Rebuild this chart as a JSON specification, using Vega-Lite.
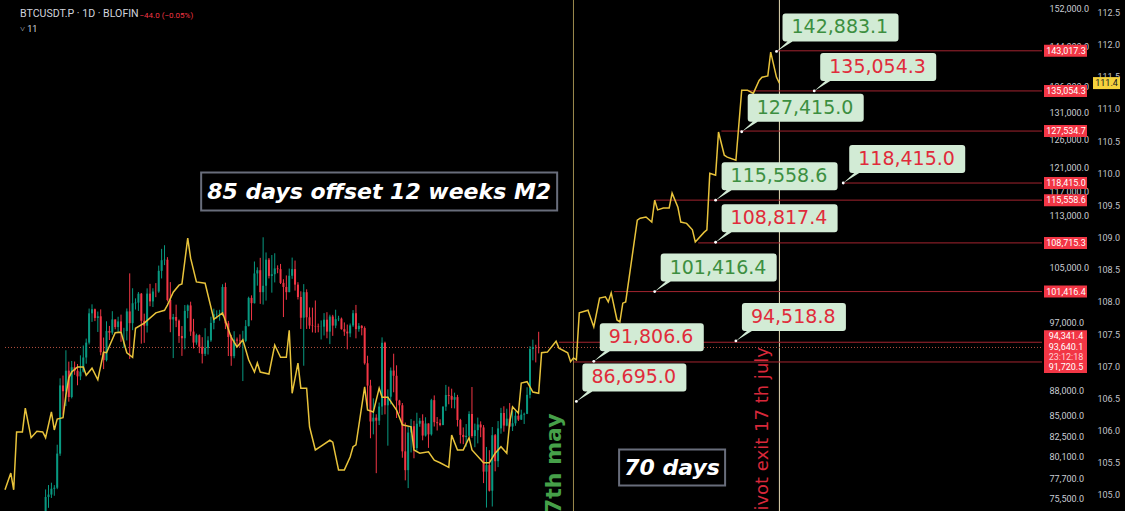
{
  "$schema": "https://vega.github.io/schema/vega-lite/v6.json",
  "width": 1042,
  "height": 511,
  "padding": {"left": 0, "top": 0, "right": 83, "bottom": 0},
  "autosize": {"type": "none"},
  "background": "#000000",
  "config": {
    "view": {"stroke": null},
    "text": {"font": "DejaVu Sans"}
  },
  "title": {
    "text": "BTCUSDT.P · 1D · BLOFIN",
    "subtitle": "˅ 11",
    "anchor": "start",
    "orient": "top",
    "frame": "group",
    "offset": -34,
    "dx": 20,
    "font": "Roboto",
    "fontSize": 10.6,
    "fontWeight": "normal",
    "color": "#d1d4dc",
    "subtitleFont": "Roboto",
    "subtitleFontSize": 9,
    "subtitleColor": "#d1d4dc",
    "subtitlePadding": 5
  },
  "datasets": {
    "candles": [
      {"date":"2024-11-05","o":67811,"h":70577,"l":67458,"c":69359},
      {"date":"2024-11-06","o":69359,"h":76460,"l":69322,"c":75640},
      {"date":"2024-11-07","o":75640,"h":76943,"l":74480,"c":75904},
      {"date":"2024-11-08","o":75904,"h":77199,"l":75538,"c":76538},
      {"date":"2024-11-09","o":76538,"h":76932,"l":75773,"c":76649},
      {"date":"2024-11-10","o":76649,"h":81500,"l":76492,"c":80474},
      {"date":"2024-11-11","o":80474,"h":89604,"l":80216,"c":88701},
      {"date":"2024-11-12","o":88701,"h":89956,"l":85072,"c":87955},
      {"date":"2024-11-13","o":87955,"h":93265,"l":86127,"c":90585},
      {"date":"2024-11-14","o":90585,"h":91765,"l":86668,"c":87250},
      {"date":"2024-11-15","o":87250,"h":91850,"l":87073,"c":91032},
      {"date":"2024-11-16","o":91032,"h":91779,"l":90056,"c":90587},
      {"date":"2024-11-17","o":90587,"h":91449,"l":88722,"c":89855},
      {"date":"2024-11-18","o":89855,"h":92594,"l":89376,"c":90465},
      {"date":"2024-11-19","o":90465,"h":93905,"l":90357,"c":92310},
      {"date":"2024-11-20","o":92310,"h":94831,"l":91500,"c":94286},
      {"date":"2024-11-21","o":94286,"h":98988,"l":94040,"c":98317},
      {"date":"2024-11-22","o":98317,"h":99588,"l":97122,"c":98892},
      {"date":"2024-11-23","o":98892,"h":98983,"l":97232,"c":97672},
      {"date":"2024-11-24","o":97672,"h":98564,"l":95734,"c":97901},
      {"date":"2024-11-25","o":97901,"h":98871,"l":92600,"c":93010},
      {"date":"2024-11-26","o":93010,"h":94973,"l":90791,"c":91965},
      {"date":"2024-11-27","o":91965,"h":97208,"l":91792,"c":95863},
      {"date":"2024-11-28","o":95863,"h":96564,"l":94640,"c":95643},
      {"date":"2024-11-29","o":95643,"h":98619,"l":95364,"c":97460},
      {"date":"2024-11-30","o":97460,"h":97463,"l":96092,"c":96407},
      {"date":"2024-12-01","o":96407,"h":97836,"l":95693,"c":97185},
      {"date":"2024-12-02","o":97185,"h":98130,"l":94395,"c":95840},
      {"date":"2024-12-03","o":95840,"h":96305,"l":93578,"c":95849},
      {"date":"2024-12-04","o":95849,"h":99000,"l":94587,"c":98587},
      {"date":"2024-12-05","o":98587,"h":104088,"l":92120,"c":96945},
      {"date":"2024-12-06","o":96945,"h":101898,"l":95981,"c":99740},
      {"date":"2024-12-07","o":99740,"h":100439,"l":98844,"c":99831},
      {"date":"2024-12-08","o":99831,"h":101351,"l":98657,"c":101109},
      {"date":"2024-12-09","o":101109,"h":101215,"l":94150,"c":97276},
      {"date":"2024-12-10","o":97276,"h":98270,"l":94256,"c":96593},
      {"date":"2024-12-11","o":96593,"h":101888,"l":95658,"c":101125},
      {"date":"2024-12-12","o":101125,"h":102540,"l":99311,"c":100004},
      {"date":"2024-12-13","o":100004,"h":101895,"l":99205,"c":101424},
      {"date":"2024-12-14","o":101424,"h":102650,"l":100609,"c":101420},
      {"date":"2024-12-15","o":101420,"h":105250,"l":101237,"c":104463},
      {"date":"2024-12-16","o":104463,"h":107793,"l":103333,"c":106058},
      {"date":"2024-12-17","o":106058,"h":108353,"l":105321,"c":106133},
      {"date":"2024-12-18","o":106133,"h":106524,"l":100000,"c":100204},
      {"date":"2024-12-19","o":100204,"h":102800,"l":95700,"c":97461},
      {"date":"2024-12-20","o":97461,"h":98233,"l":92232,"c":97805},
      {"date":"2024-12-21","o":97805,"h":99540,"l":96398,"c":97291},
      {"date":"2024-12-22","o":97291,"h":97448,"l":94250,"c":95186},
      {"date":"2024-12-23","o":95186,"h":96539,"l":92520,"c":94878},
      {"date":"2024-12-24","o":94878,"h":99487,"l":93396,"c":98663},
      {"date":"2024-12-25","o":98663,"h":99569,"l":97632,"c":99430},
      {"date":"2024-12-26","o":99430,"h":99963,"l":95199,"c":95792},
      {"date":"2024-12-27","o":95792,"h":97544,"l":93500,"c":94299},
      {"date":"2024-12-28","o":94299,"h":95500,"l":94000,"c":95300},
      {"date":"2024-12-29","o":95300,"h":95400,"l":92881,"c":93738},
      {"date":"2024-12-30","o":93738,"h":95024,"l":91530,"c":92792},
      {"date":"2024-12-31","o":92792,"h":96250,"l":92500,"c":93576},
      {"date":"2025-01-01","o":93576,"h":95150,"l":92700,"c":94591},
      {"date":"2025-01-02","o":94591,"h":97839,"l":94392,"c":96984},
      {"date":"2025-01-03","o":96984,"h":98976,"l":96100,"c":98174},
      {"date":"2025-01-04","o":98174,"h":98734,"l":97562,"c":98236},
      {"date":"2025-01-05","o":98236,"h":98813,"l":97291,"c":98314},
      {"date":"2025-01-06","o":98314,"h":102482,"l":97926,"c":102078},
      {"date":"2025-01-07","o":102078,"h":102712,"l":96132,"c":96923},
      {"date":"2025-01-08","o":96923,"h":97259,"l":92500,"c":95043},
      {"date":"2025-01-09","o":95043,"h":95349,"l":91220,"c":92484},
      {"date":"2025-01-10","o":92484,"h":95837,"l":92206,"c":94701},
      {"date":"2025-01-11","o":94701,"h":94977,"l":93840,"c":94566},
      {"date":"2025-01-12","o":94566,"h":95400,"l":93711,"c":94488},
      {"date":"2025-01-13","o":94488,"h":95900,"l":89256,"c":94516},
      {"date":"2025-01-14","o":94516,"h":97371,"l":94346,"c":96534},
      {"date":"2025-01-15","o":96534,"h":100681,"l":96500,"c":100505},
      {"date":"2025-01-16","o":100505,"h":100873,"l":97337,"c":99757},
      {"date":"2025-01-17","o":99757,"h":105865,"l":99700,"c":104078},
      {"date":"2025-01-18","o":104078,"h":104988,"l":102277,"c":104556},
      {"date":"2025-01-19","o":104556,"h":106422,"l":99651,"c":101331},
      {"date":"2025-01-20","o":101331,"h":109588,"l":99550,"c":102260},
      {"date":"2025-01-21","o":102260,"h":107240,"l":100119,"c":106144},
      {"date":"2025-01-22","o":106144,"h":106394,"l":103339,"c":103706},
      {"date":"2025-01-23","o":103706,"h":106850,"l":101262,"c":103960},
      {"date":"2025-01-24","o":103960,"h":107120,"l":102750,"c":104820},
      {"date":"2025-01-25","o":104820,"h":105286,"l":104106,"c":104714},
      {"date":"2025-01-26","o":104714,"h":105500,"l":102520,"c":102682},
      {"date":"2025-01-27","o":102682,"h":103220,"l":97795,"c":102087},
      {"date":"2025-01-28","o":102087,"h":103783,"l":100233,"c":101332},
      {"date":"2025-01-29","o":101332,"h":104800,"l":101328,"c":103733},
      {"date":"2025-01-30","o":103733,"h":106457,"l":103278,"c":104722},
      {"date":"2025-01-31","o":104722,"h":106012,"l":101560,"c":102429},
      {"date":"2025-02-01","o":102429,"h":102783,"l":100279,"c":100635},
      {"date":"2025-02-02","o":100635,"h":101456,"l":96150,"c":97700},
      {"date":"2025-02-03","o":97700,"h":102500,"l":91231,"c":101328},
      {"date":"2025-02-04","o":101328,"h":101744,"l":96150,"c":97763},
      {"date":"2025-02-05","o":97763,"h":99149,"l":96155,"c":96612},
      {"date":"2025-02-06","o":96612,"h":99120,"l":95676,"c":96554},
      {"date":"2025-02-07","o":96554,"h":100137,"l":95620,"c":96506},
      {"date":"2025-02-08","o":96506,"h":96880,"l":95688,"c":96444},
      {"date":"2025-02-09","o":96444,"h":97323,"l":94713,"c":96462},
      {"date":"2025-02-10","o":96462,"h":98345,"l":95256,"c":97430},
      {"date":"2025-02-11","o":97430,"h":98478,"l":94876,"c":95778},
      {"date":"2025-02-12","o":95778,"h":98119,"l":94088,"c":97869},
      {"date":"2025-02-13","o":97869,"h":98100,"l":95205,"c":96609},
      {"date":"2025-02-14","o":96609,"h":98826,"l":96252,"c":97500},
      {"date":"2025-02-15","o":97500,"h":97972,"l":97223,"c":97569},
      {"date":"2025-02-16","o":97569,"h":97725,"l":96055,"c":96118},
      {"date":"2025-02-17","o":96118,"h":97046,"l":95205,"c":95780},
      {"date":"2025-02-18","o":95780,"h":96753,"l":93388,"c":95539},
      {"date":"2025-02-19","o":95539,"h":96899,"l":95029,"c":96635},
      {"date":"2025-02-20","o":96635,"h":98766,"l":96439,"c":98333},
      {"date":"2025-02-21","o":98333,"h":99504,"l":94871,"c":96125},
      {"date":"2025-02-22","o":96125,"h":96950,"l":95770,"c":96577},
      {"date":"2025-02-23","o":96577,"h":96672,"l":95270,"c":96273},
      {"date":"2025-02-24","o":96273,"h":96503,"l":91371,"c":91552},
      {"date":"2025-02-25","o":91552,"h":92540,"l":86050,"c":88680},
      {"date":"2025-02-26","o":88680,"h":89414,"l":82256,"c":84250},
      {"date":"2025-02-27","o":84250,"h":87078,"l":82716,"c":84708},
      {"date":"2025-02-28","o":84708,"h":85120,"l":78258,"c":84349},
      {"date":"2025-03-01","o":84349,"h":86558,"l":83824,"c":86064},
      {"date":"2025-03-02","o":86064,"h":95000,"l":85050,"c":94270},
      {"date":"2025-03-03","o":94270,"h":94416,"l":85117,"c":86220},
      {"date":"2025-03-04","o":86220,"h":88200,"l":81390,"c":87281},
      {"date":"2025-03-05","o":87281,"h":91000,"l":86335,"c":90606},
      {"date":"2025-03-06","o":90606,"h":92810,"l":87836,"c":89931},
      {"date":"2025-03-07","o":89931,"h":91283,"l":84667,"c":86801},
      {"date":"2025-03-08","o":86801,"h":86897,"l":85218,"c":86222},
      {"date":"2025-03-09","o":86222,"h":86500,"l":80000,"c":80734},
      {"date":"2025-03-10","o":80734,"h":84123,"l":77459,"c":78595},
      {"date":"2025-03-11","o":78595,"h":83617,"l":76606,"c":82932},
      {"date":"2025-03-12","o":82932,"h":84539,"l":80607,"c":83680},
      {"date":"2025-03-13","o":83680,"h":84336,"l":79939,"c":81115},
      {"date":"2025-03-14","o":81115,"h":85309,"l":80818,"c":83983},
      {"date":"2025-03-15","o":83983,"h":84676,"l":83618,"c":84338},
      {"date":"2025-03-16","o":84338,"h":85117,"l":82017,"c":82574},
      {"date":"2025-03-17","o":82574,"h":84757,"l":82457,"c":84010},
      {"date":"2025-03-18","o":84010,"h":84021,"l":81134,"c":82716},
      {"date":"2025-03-19","o":82716,"h":87021,"l":82569,"c":86854},
      {"date":"2025-03-20","o":86854,"h":87443,"l":83647,"c":84168},
      {"date":"2025-03-21","o":84168,"h":84782,"l":83171,"c":84043},
      {"date":"2025-03-22","o":84043,"h":84513,"l":83675,"c":83832},
      {"date":"2025-03-23","o":83832,"h":86094,"l":83794,"c":86054},
      {"date":"2025-03-24","o":86054,"h":88765,"l":85541,"c":87499},
      {"date":"2025-03-25","o":87499,"h":88543,"l":86346,"c":87391},
      {"date":"2025-03-26","o":87391,"h":88292,"l":85861,"c":86909},
      {"date":"2025-03-27","o":86909,"h":87786,"l":85837,"c":87232},
      {"date":"2025-03-28","o":87232,"h":87515,"l":83647,"c":84424},
      {"date":"2025-03-29","o":84424,"h":84567,"l":81645,"c":82648},
      {"date":"2025-03-30","o":82648,"h":83535,"l":81565,"c":82390},
      {"date":"2025-03-31","o":82390,"h":83943,"l":81279,"c":82550},
      {"date":"2025-04-01","o":82550,"h":85487,"l":82430,"c":85158},
      {"date":"2025-04-02","o":85158,"h":88500,"l":82320,"c":82516},
      {"date":"2025-04-03","o":82516,"h":83998,"l":81211,"c":83213},
      {"date":"2025-04-04","o":83213,"h":84720,"l":81659,"c":83889},
      {"date":"2025-04-05","o":83889,"h":84266,"l":82379,"c":83537},
      {"date":"2025-04-06","o":83537,"h":83817,"l":77153,"c":78431},
      {"date":"2025-04-07","o":78431,"h":81243,"l":74508,"c":79163},
      {"date":"2025-04-08","o":79163,"h":80867,"l":76239,"c":76322},
      {"date":"2025-04-09","o":76322,"h":83588,"l":74620,"c":82615},
      {"date":"2025-04-10","o":82615,"h":82753,"l":78464,"c":79607},
      {"date":"2025-04-11","o":79607,"h":84300,"l":78936,"c":83423},
      {"date":"2025-04-12","o":83423,"h":85905,"l":82792,"c":85276},
      {"date":"2025-04-13","o":85276,"h":86100,"l":83034,"c":83760},
      {"date":"2025-04-14","o":83760,"h":85800,"l":83678,"c":84592},
      {"date":"2025-04-15","o":84592,"h":86496,"l":83600,"c":83643},
      {"date":"2025-04-16","o":83643,"h":85500,"l":83111,"c":84030},
      {"date":"2025-04-17","o":84030,"h":85470,"l":83736,"c":84947},
      {"date":"2025-04-18","o":84947,"h":85132,"l":84303,"c":84474},
      {"date":"2025-04-19","o":84474,"h":85677,"l":84434,"c":85077},
      {"date":"2025-04-20","o":85077,"h":85320,"l":83950,"c":85179},
      {"date":"2025-04-21","o":85179,"h":88466,"l":85143,"c":87516},
      {"date":"2025-04-22","o":87516,"h":93817,"l":87084,"c":93442},
      {"date":"2025-04-23","o":93442,"h":94696,"l":91935,"c":93691},
      {"date":"2025-04-24","o":93691,"h":94000,"l":91660,"c":93684},
      {"date":"2025-04-25","o":93684,"h":95758,"l":92856,"c":93640}
    ],
    "m2": [
      {"date":"2024-10-23","m2":105.08},{"date":"2024-10-25","m2":105.34},{"date":"2024-10-26","m2":105.08},
      {"date":"2024-10-27","m2":105.98},{"date":"2024-10-29","m2":105.98},{"date":"2024-10-30","m2":106.35},
      {"date":"2024-11-01","m2":105.89},{"date":"2024-11-03","m2":105.99},{"date":"2024-11-05","m2":105.98},
      {"date":"2024-11-06","m2":105.89},{"date":"2024-11-08","m2":106.29},{"date":"2024-11-09","m2":106.01},
      {"date":"2024-11-10","m2":106.18},{"date":"2024-11-12","m2":106.2},{"date":"2024-11-13","m2":106.55},
      {"date":"2024-11-14","m2":106.82},{"date":"2024-11-15","m2":106.91},{"date":"2024-11-17","m2":106.99},
      {"date":"2024-11-19","m2":106.99},{"date":"2024-11-20","m2":106.86},{"date":"2024-11-22","m2":106.97},
      {"date":"2024-11-24","m2":106.79},{"date":"2024-11-26","m2":107.22},{"date":"2024-11-27","m2":107.21},
      {"date":"2024-11-30","m2":107.52},{"date":"2024-12-02","m2":107.53},{"date":"2024-12-04","m2":107.21},
      {"date":"2024-12-06","m2":107.14},{"date":"2024-12-07","m2":107.59},{"date":"2024-12-10","m2":107.67},
      {"date":"2024-12-14","m2":107.83},{"date":"2024-12-17","m2":107.87},{"date":"2024-12-18","m2":107.95},
      {"date":"2024-12-20","m2":108.15},{"date":"2024-12-22","m2":108.26},{"date":"2024-12-23","m2":108.28},
      {"date":"2024-12-25","m2":108.99},{"date":"2024-12-26","m2":108.68},{"date":"2024-12-28","m2":108.31},
      {"date":"2024-12-31","m2":108.29},{"date":"2025-01-03","m2":107.73},{"date":"2025-01-06","m2":107.83},
      {"date":"2025-01-09","m2":107.45},{"date":"2025-01-11","m2":107.3},{"date":"2025-01-13","m2":107.41},
      {"date":"2025-01-15","m2":107.1},{"date":"2025-01-17","m2":106.91},{"date":"2025-01-18","m2":107.05},
      {"date":"2025-01-19","m2":106.91},{"date":"2025-01-22","m2":106.88},{"date":"2025-01-24","m2":107.33},
      {"date":"2025-01-26","m2":107.14},{"date":"2025-01-28","m2":107.14},{"date":"2025-01-29","m2":107.56},
      {"date":"2025-01-30","m2":106.58},{"date":"2025-02-01","m2":107.05},{"date":"2025-02-02","m2":106.66},
      {"date":"2025-02-04","m2":106.66},{"date":"2025-02-05","m2":106.06},{"date":"2025-02-07","m2":105.7},
      {"date":"2025-02-09","m2":105.76},{"date":"2025-02-12","m2":105.85},{"date":"2025-02-13","m2":105.82},
      {"date":"2025-02-15","m2":105.39},{"date":"2025-02-17","m2":105.39},{"date":"2025-02-19","m2":105.59},
      {"date":"2025-02-20","m2":105.75},{"date":"2025-02-21","m2":105.78},{"date":"2025-02-24","m2":106.68},
      {"date":"2025-02-25","m2":106.32},{"date":"2025-02-27","m2":106.29},{"date":"2025-03-01","m2":106.66},
      {"date":"2025-03-02","m2":106.52},{"date":"2025-03-04","m2":106.52},{"date":"2025-03-07","m2":106.32},
      {"date":"2025-03-09","m2":106.09},{"date":"2025-03-12","m2":106.06},{"date":"2025-03-13","m2":105.7},
      {"date":"2025-03-15","m2":105.65},{"date":"2025-03-18","m2":105.67},{"date":"2025-03-20","m2":105.54},
      {"date":"2025-03-22","m2":105.5},{"date":"2025-03-25","m2":105.43},{"date":"2025-03-26","m2":105.93},
      {"date":"2025-03-28","m2":105.7},{"date":"2025-03-30","m2":105.7},{"date":"2025-04-01","m2":105.89},
      {"date":"2025-04-02","m2":105.7},{"date":"2025-04-06","m2":105.5},{"date":"2025-04-08","m2":105.5},
      {"date":"2025-04-10","m2":105.65},{"date":"2025-04-12","m2":105.75},{"date":"2025-04-14","m2":105.65},
      {"date":"2025-04-15","m2":106.13},{"date":"2025-04-16","m2":106.37},{"date":"2025-04-18","m2":106.27},
      {"date":"2025-04-19","m2":106.74},{"date":"2025-04-21","m2":106.76},{"date":"2025-04-23","m2":106.6},
      {"date":"2025-04-25","m2":106.58},{"date":"2025-04-26","m2":107.21},{"date":"2025-04-28","m2":107.22},
      {"date":"2025-05-01","m2":107.39},{"date":"2025-05-02","m2":107.28},{"date":"2025-05-05","m2":107.21},
      {"date":"2025-05-06","m2":107.07},{"date":"2025-05-07","m2":107.13},{"date":"2025-05-08","m2":107.1},
      {"date":"2025-05-09","m2":107.83},{"date":"2025-05-12","m2":107.87},{"date":"2025-05-14","m2":107.61},
      {"date":"2025-05-16","m2":108.06},{"date":"2025-05-18","m2":108.08},{"date":"2025-05-19","m2":108.0},
      {"date":"2025-05-20","m2":108.14},{"date":"2025-05-22","m2":107.72},{"date":"2025-05-23","m2":107.69},
      {"date":"2025-05-24","m2":107.98},{"date":"2025-05-25","m2":108.0},{"date":"2025-05-29","m2":109.27},
      {"date":"2025-05-30","m2":109.3},{"date":"2025-06-01","m2":109.32},{"date":"2025-06-03","m2":109.24},
      {"date":"2025-06-04","m2":109.58},{"date":"2025-06-05","m2":109.43},{"date":"2025-06-07","m2":109.46},
      {"date":"2025-06-09","m2":109.46},{"date":"2025-06-10","m2":109.69},{"date":"2025-06-12","m2":109.47},
      {"date":"2025-06-13","m2":109.24},{"date":"2025-06-15","m2":109.22},{"date":"2025-06-17","m2":109.12},
      {"date":"2025-06-18","m2":108.93},{"date":"2025-06-21","m2":109.08},{"date":"2025-06-22","m2":109.12},
      {"date":"2025-06-23","m2":110.0},{"date":"2025-06-25","m2":109.97},{"date":"2025-06-26","m2":110.64},
      {"date":"2025-06-28","m2":110.28},{"date":"2025-06-29","m2":110.25},{"date":"2025-07-02","m2":110.2},
      {"date":"2025-07-04","m2":111.29},{"date":"2025-07-06","m2":111.29},{"date":"2025-07-08","m2":111.24},
      {"date":"2025-07-10","m2":111.44},{"date":"2025-07-11","m2":111.49},{"date":"2025-07-13","m2":111.51},
      {"date":"2025-07-14","m2":111.88},{"date":"2025-07-16","m2":111.49},{"date":"2025-07-17","m2":111.4}
    ],
    "rays": [
      {"date":"2025-07-16","price":143017.3},{"date":"2025-07-06","price":135054.3},
      {"date":"2025-06-27","price":127534.7},{"date":"2025-08-08","price":118415.0},
      {"date":"2025-06-04","price":115558.6},{"date":"2025-06-19","price":108715.3},
      {"date":"2025-05-21","price":101416.4},{"date":"2025-05-02","price":94341.4},
      {"date":"2025-05-07","price":91720.5}
    ],
    "last": [{"date":"2024-10-23","price":93640.1}],
    "vlines": [
      {"date":"2025-05-07","name":"may","label":"7th may"},
      {"date":"2025-07-17","name":"july","label":"pivot exit 17 th july"}
    ],
    "callouts": [
      {"date":"2025-07-16","price":142883.1,"dir":"up"},
      {"date":"2025-07-29","price":135054.3,"dir":"down"},
      {"date":"2025-07-04","price":127415.0,"dir":"up"},
      {"date":"2025-08-08","price":118415.0,"dir":"down"},
      {"date":"2025-06-25","price":115558.6,"dir":"up"},
      {"date":"2025-06-25","price":108817.4,"dir":"down"},
      {"date":"2025-06-04","price":101416.4,"dir":"up"},
      {"date":"2025-07-02","price":94518.8,"dir":"down"},
      {"date":"2025-05-14","price":91806.6,"dir":"down"},
      {"date":"2025-05-08","price":86695.0,"dir":"down"}
    ],
    "notes": [
      {"date":"2025-03-01","price":117000,"label":"85 days offset 12 weeks M2"},
      {"date":"2025-06-10","price":78900,"label":"70 days"}
    ],
    "tags": [
      {"price":143017.3},{"price":135054.3},{"price":127534.7},{"price":118415.0},
      {"price":115558.6},{"price":108715.3},{"price":101416.4}
    ],
    "tag94": [{"price":94341.4}],
    "tag93": [{"price":93640.1,"countdown":"23:12:18"}],
    "tag91": [{"price":91720.5}],
    "m2tag": [{"m2":111.4}]
  },
  "encoding": {
    "x": {
      "field": "date",
      "type": "temporal",
      "scale": {
        "type": "utc",
        "domain": [
          {"year": 2024, "month": 10, "date": 23, "utc": true},
          {"year": 2025, "month": 10, "date": 13, "hours": 19, "minutes": 26, "utc": true}
        ]
      },
      "axis": {
        "orient": "top",
        "labels": false,
        "ticks": false,
        "domain": false,
        "grid": false,
        "title": "−44.0 (−0.05%)",
        "titleColor": "#f23645",
        "titleFont": "Roboto",
        "titleFontSize": 8,
        "titleFontWeight": "normal",
        "titleAnchor": "start",
        "titleAlign": "left",
        "titleBaseline": "middle",
        "titleX": 139,
        "titleY": 15
      }
    }
  },
  "resolve": {"scale": {"y": "independent"}},
  "layer": [
    {
      "data": {"name": "vlines"},
      "mark": {"type": "rule", "strokeWidth": 1},
      "encoding": {
        "color": {"condition": {"test": "datum.name == 'may'", "value": "#9c8a4e"}, "value": "#e3d9b3"}
      }
    },
    {
      "data": {"name": "rays"},
      "mark": {"type": "rule", "strokeWidth": 1, "clip": true},
      "encoding": {
        "x2": {"value": "width"},
        "y": {
          "field": "price", "type": "quantitative",
          "scale": {"type": "log", "domain": [74143, 153774], "nice": false, "zero": false},
          "axis": {
            "orient": "right",
            "domain": false, "ticks": false, "grid": false, "title": null,
            "labelPadding": 7,
            "labelFont": "Roboto", "labelFontSize": 9, "labelColor": "#c9ccd3",
            "labelAlign": "left", "labelBaseline": "middle",
            "labelOverlap": false,
            "format": ",.1f",
            "values": [75500, 77700, 80100, 82500, 85000, 88000, 97000, 105000, 113000, 117000, 121000, 126000, 131000, 136000, 144000, 152000]
          }
        },
        "color": {"value": "#a3242f"}
      }
    },
    {
      "data": {"name": "last"},
      "mark": {"type": "rule", "strokeWidth": 1, "strokeDash": [1, 2], "clip": true},
      "encoding": {
        "x2": {"value": "width"},
        "y": {"field": "price", "type": "quantitative", "scale": {"type": "log", "domain": [74143, 153774], "nice": false, "zero": false}, "axis": null},
        "color": {"value": "#b5503f"}
      }
    },
    {
      "data": {"name": "candles"},
      "mark": {"type": "rule", "strokeWidth": 1, "clip": true},
      "encoding": {
        "y": {"field": "l", "type": "quantitative", "scale": {"type": "log", "domain": [74143, 153774], "nice": false, "zero": false}, "axis": null},
        "y2": {"field": "h"},
        "color": {"condition": {"test": "datum.c >= datum.o", "value": "#089981"}, "value": "#f23645"}
      }
    },
    {
      "data": {"name": "candles"},
      "mark": {"type": "bar", "width": 2, "clip": true},
      "encoding": {
        "y": {"field": "o", "type": "quantitative", "scale": {"type": "log", "domain": [74143, 153774], "nice": false, "zero": false}, "axis": null},
        "y2": {"field": "c"},
        "color": {"condition": {"test": "datum.c >= datum.o", "value": "#089981"}, "value": "#f23645"}
      }
    },
    {
      "data": {"name": "m2"},
      "mark": {"type": "line", "strokeWidth": 1.5, "color": "#e8c33b", "clip": true},
      "encoding": {
        "y": {
          "field": "m2", "type": "quantitative",
          "scale": {"domain": [104.751, 112.691], "nice": false, "zero": false},
          "axis": {
            "orient": "right", "offset": 48,
            "domain": false, "ticks": false, "grid": false, "title": null,
            "labelPadding": 7,
            "labelFont": "Roboto", "labelFontSize": 9, "labelColor": "#c0c3ca",
            "labelAlign": "left", "labelBaseline": "middle",
            "labelOverlap": false,
            "format": ".1f",
            "values": [105, 105.5, 106, 106.5, 107, 107.5, 108, 108.5, 109, 109.5, 110, 110.5, 111, 111.5, 112, 112.5]
          }
        }
      }
    },
    {
      "data": {"name": "m2tag"},
      "mark": {"type": "point", "shape": "M51,-6H78V6H51Z", "size": 4, "filled": true, "opacity": 1, "color": "#f5d23c"},
      "encoding": {
        "x": {"value": "width"},
        "y": {"field": "m2", "type": "quantitative", "scale": {"domain": [104.751, 112.691], "nice": false, "zero": false}, "axis": null}
      }
    },
    {
      "data": {"name": "m2tag"},
      "mark": {"type": "text", "font": "Roboto", "fontSize": 9, "color": "#131722", "align": "center", "baseline": "middle", "dx": 64.5},
      "encoding": {
        "x": {"value": "width"},
        "y": {"field": "m2", "type": "quantitative", "scale": {"domain": [104.751, 112.691], "nice": false, "zero": false}, "axis": null},
        "text": {"field": "m2", "format": ".1f"}
      }
    },
    {
      "data": {"name": "callouts"},
      "mark": {"type": "point", "size": 4, "filled": true, "opacity": 1, "color": "#d2ebd5"},
      "encoding": {
        "y": {"field": "price", "type": "quantitative", "scale": {"type": "log", "domain": [74143, 153774], "nice": false, "zero": false}, "axis": null},
        "shape": {
          "condition": {"test": "datum.price >= 100000", "value": "M0,0L16,-10H119Q122,-10 122,-13V-35Q122,-38 119,-38H9Q6,-38 6,-35V-13Q6,-10 9,-10H11Z"},
          "value": "M0,0L16,-10H107Q110,-10 110,-13V-35Q110,-38 107,-38H9Q6,-38 6,-35V-13Q6,-10 9,-10H11Z"
        }
      }
    },
    {
      "data": {"name": "callouts"},
      "mark": {"type": "point", "shape": "circle", "size": 8, "filled": true, "opacity": 1, "color": "#ffffff"},
      "encoding": {
        "y": {"field": "price", "type": "quantitative", "scale": {"type": "log", "domain": [74143, 153774], "nice": false, "zero": false}, "axis": null}
      }
    },
    {
      "data": {"name": "callouts"},
      "mark": {"type": "text", "font": "DejaVu Sans", "fontSize": 19, "align": "left", "baseline": "middle", "dx": 15, "dy": -24},
      "encoding": {
        "y": {"field": "price", "type": "quantitative", "scale": {"type": "log", "domain": [74143, 153774], "nice": false, "zero": false}, "axis": null},
        "text": {"field": "price", "format": ",.1f"},
        "color": {"condition": {"test": "datum.dir == 'up'", "value": "#3c8f40"}, "value": "#e02b3b"}
      }
    },
    {
      "data": {"name": "notes"},
      "mark": {"type": "point", "size": 4, "filled": false, "opacity": 1, "fill": "#000000", "fillOpacity": 1, "stroke": "#686d7b", "strokeWidth": 2},
      "encoding": {
        "y": {"field": "price", "type": "quantitative", "scale": {"type": "log", "domain": [74143, 153774], "nice": false, "zero": false}, "axis": null},
        "shape": {
          "condition": {"test": "datum.label == '70 days'", "value": "M-53,-18H53V18H-53Z"},
          "value": "M-178,-19H178V19H-178Z"
        }
      }
    },
    {
      "data": {"name": "notes"},
      "mark": {"type": "text", "font": "DejaVu Sans", "fontSize": 22, "fontWeight": "bold", "fontStyle": "italic", "color": "#ffffff", "align": "center", "baseline": "middle", "dy": 1},
      "encoding": {
        "y": {"field": "price", "type": "quantitative", "scale": {"type": "log", "domain": [74143, 153774], "nice": false, "zero": false}, "axis": null},
        "text": {"field": "label"}
      }
    },
    {
      "data": {"name": "vlines"},
      "transform": [{"filter": "datum.name == 'may'"}],
      "mark": {"type": "text", "font": "DejaVu Sans", "fontSize": 22, "fontWeight": "bold", "color": "#46a049", "angle": 270, "align": "left", "baseline": "alphabetic", "dx": -3, "dy": -12},
      "encoding": {
        "y": {"value": "height"},
        "text": {"field": "label"}
      }
    },
    {
      "data": {"name": "vlines"},
      "transform": [{"filter": "datum.name == 'july'"}],
      "mark": {"type": "text", "font": "DejaVu Sans", "fontSize": 18, "color": "#d8283a", "angle": 270, "align": "left", "baseline": "alphabetic", "dx": -11, "dy": -11},
      "encoding": {
        "y": {"value": "height"},
        "text": {"field": "label"}
      }
    },
    {
      "data": {"name": "tags"},
      "mark": {"type": "point", "shape": "M2,-6H45V6H2Z", "size": 4, "filled": true, "opacity": 1, "color": "#f23645"},
      "encoding": {
        "x": {"value": "width"},
        "y": {"field": "price", "type": "quantitative", "scale": {"type": "log", "domain": [74143, 153774], "nice": false, "zero": false}, "axis": null}
      }
    },
    {
      "data": {"name": "tags"},
      "mark": {"type": "text", "font": "Roboto", "fontSize": 9, "color": "#ffffff", "align": "center", "baseline": "middle", "dx": 24},
      "encoding": {
        "x": {"value": "width"},
        "y": {"field": "price", "type": "quantitative", "scale": {"type": "log", "domain": [74143, 153774], "nice": false, "zero": false}, "axis": null},
        "text": {"field": "price", "format": ",.1f"}
      }
    },
    {
      "data": {"name": "tag93"},
      "mark": {"type": "point", "shape": "M2,-6H45V16H2Z", "size": 4, "filled": true, "opacity": 1, "color": "#f23645"},
      "encoding": {
        "x": {"value": "width"},
        "y": {"field": "price", "type": "quantitative", "scale": {"type": "log", "domain": [74143, 153774], "nice": false, "zero": false}, "axis": null}
      }
    },
    {
      "data": {"name": "tag94"},
      "mark": {"type": "point", "shape": "M2,-6H45V6H2Z", "size": 4, "filled": true, "opacity": 1, "color": "#f23645", "yOffset": -6},
      "encoding": {
        "x": {"value": "width"},
        "y": {"field": "price", "type": "quantitative", "scale": {"type": "log", "domain": [74143, 153774], "nice": false, "zero": false}, "axis": null}
      }
    },
    {
      "data": {"name": "tag91"},
      "mark": {"type": "point", "shape": "M2,-6H45V6H2Z", "size": 4, "filled": true, "opacity": 1, "color": "#f23645", "yOffset": 5},
      "encoding": {
        "x": {"value": "width"},
        "y": {"field": "price", "type": "quantitative", "scale": {"type": "log", "domain": [74143, 153774], "nice": false, "zero": false}, "axis": null}
      }
    },
    {
      "data": {"name": "tag94"},
      "mark": {"type": "text", "font": "Roboto", "fontSize": 9, "color": "#ffffff", "align": "center", "baseline": "middle", "dx": 24, "yOffset": -6},
      "encoding": {
        "x": {"value": "width"},
        "y": {"field": "price", "type": "quantitative", "scale": {"type": "log", "domain": [74143, 153774], "nice": false, "zero": false}, "axis": null},
        "text": {"field": "price", "format": ",.1f"}
      }
    },
    {
      "data": {"name": "tag93"},
      "mark": {"type": "text", "font": "Roboto", "fontSize": 9, "color": "#ffffff", "align": "center", "baseline": "middle", "dx": 24},
      "encoding": {
        "x": {"value": "width"},
        "y": {"field": "price", "type": "quantitative", "scale": {"type": "log", "domain": [74143, 153774], "nice": false, "zero": false}, "axis": null},
        "text": {"field": "price", "format": ",.1f"}
      }
    },
    {
      "data": {"name": "tag93"},
      "mark": {"type": "text", "font": "Roboto", "fontSize": 9, "color": "#ffd0d4", "align": "center", "baseline": "middle", "dx": 24, "yOffset": 10},
      "encoding": {
        "x": {"value": "width"},
        "y": {"field": "price", "type": "quantitative", "scale": {"type": "log", "domain": [74143, 153774], "nice": false, "zero": false}, "axis": null},
        "text": {"field": "countdown"}
      }
    },
    {
      "data": {"name": "tag91"},
      "mark": {"type": "text", "font": "Roboto", "fontSize": 9, "color": "#ffffff", "align": "center", "baseline": "middle", "dx": 24, "yOffset": 5},
      "encoding": {
        "x": {"value": "width"},
        "y": {"field": "price", "type": "quantitative", "scale": {"type": "log", "domain": [74143, 153774], "nice": false, "zero": false}, "axis": null},
        "text": {"field": "price", "format": ",.1f"}
      }
    }
  ]
}
